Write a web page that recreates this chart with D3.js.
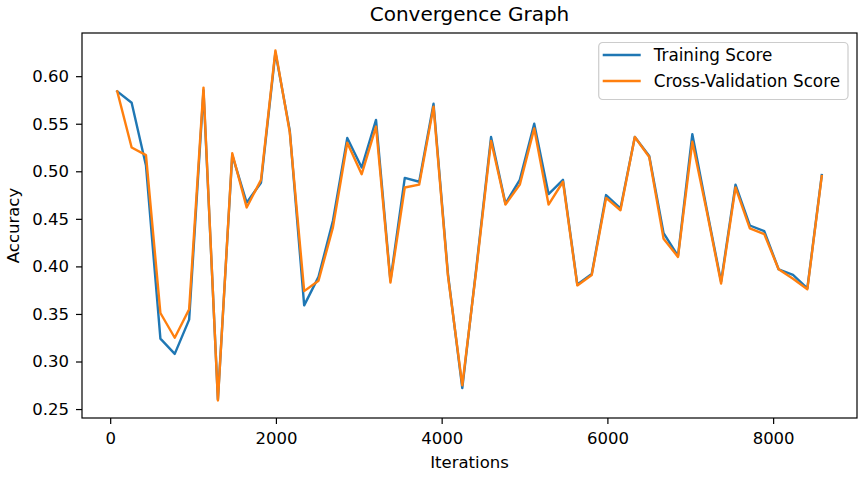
<!DOCTYPE html>
<html>
<head>
<meta charset="utf-8">
<script src="https://cdn.jsdelivr.net/npm/d3@7"></script>
<style>
  html, body { margin: 0; padding: 0; background: #fff; }
  svg { display: block; font-family: "DejaVu Sans", sans-serif; }
</style>
</head>
<body>
<svg id="chart" width="864" height="477"></svg>
<script>
// values
const iterations = [85, 259, 432, 606, 779, 953, 1126, 1300, 1473, 1647,
  1820, 1994, 2167, 2341, 2514, 2688, 2861, 3035, 3208, 3382,
  3555, 3729, 3902, 4076, 4249, 4423, 4596, 4770, 4943, 5117,
  5290, 5464, 5637, 5811, 5984, 6158, 6331, 6505, 6678, 6852,
  7025, 7199, 7372, 7546, 7719, 7893, 8066, 8240, 8413, 8587];

const trainingScore = [0.584, 0.572, 0.506, 0.324, 0.308, 0.344, 0.585, 0.260, 0.517, 0.467,
  0.488, 0.625, 0.543, 0.359, 0.389, 0.448, 0.535, 0.504, 0.554, 0.385,
  0.493, 0.489, 0.571, 0.392, 0.272, 0.402, 0.536, 0.466, 0.491, 0.550,
  0.476, 0.491, 0.381, 0.392, 0.475, 0.461, 0.536, 0.516, 0.435, 0.411,
  0.539, 0.460, 0.384, 0.486, 0.443, 0.437, 0.397, 0.391, 0.377, 0.496];

const cvScore = [0.584, 0.525, 0.517, 0.351, 0.325, 0.355, 0.588, 0.259, 0.519, 0.462,
  0.491, 0.627, 0.541, 0.374, 0.385, 0.441, 0.530, 0.497, 0.547, 0.383,
  0.483, 0.486, 0.568, 0.390, 0.275, 0.400, 0.532, 0.465, 0.486, 0.545,
  0.465, 0.489, 0.380, 0.391, 0.472, 0.459, 0.536, 0.515, 0.429, 0.410,
  0.531, 0.458, 0.382, 0.483, 0.440, 0.434, 0.397, 0.387, 0.376, 0.495];

const xTicks = [0, 2000, 4000, 6000, 8000];
const yTicks = [0.25, 0.30, 0.35, 0.40, 0.45, 0.50, 0.55, 0.60];

const series = [
  { name: "Training Score", values: trainingScore, color: "#1f77b4" },
  { name: "Cross-Validation Score", values: cvScore, color: "#ff7f0e" },
];

const width = 864;
const height = 477;
const margin = { top: 33, right: 7, bottom: 59, left: 82 };
const innerW = width - margin.left - margin.right;
const innerH = height - margin.top - margin.bottom;

const svg = d3.select("#chart");
const g = svg.append("g").attr("transform", `translate(${margin.left},${margin.top})`);

// matplotlib-like 5% padding around the data
const xExt = d3.extent(iterations);
const xPad = (xExt[1] - xExt[0]) * 0.05;
const allY = trainingScore.concat(cvScore);
const yExt = d3.extent(allY);
const yPad = (yExt[1] - yExt[0]) * 0.05;

const xScale = d3.scaleLinear()
  .domain([xExt[0] - xPad, xExt[1] + xPad])
  .range([0, innerW]);

const yScale = d3.scaleLinear()
  .domain([yExt[0] - yPad, yExt[1] + yPad])
  .range([innerH, 0]);

const line = d3.line()
  .x((d, i) => xScale(iterations[i]))
  .y((d) => yScale(d));

series.forEach((s) => {
  g.append("path")
    .datum(s.values)
    .attr("d", line)
    .attr("fill", "none")
    .attr("stroke", s.color)
    .attr("stroke-width", 2.4)
    .attr("stroke-linejoin", "round")
    .attr("stroke-linecap", "square");
});

// axes
const xAxis = d3.axisBottom(xScale).tickValues(xTicks).tickFormat(d3.format("d"))
  .tickSize(6).tickPadding(8).tickSizeOuter(0);
const yAxis = d3.axisLeft(yScale).tickValues(yTicks).tickFormat(d3.format(".2f"))
  .tickSize(6).tickPadding(7).tickSizeOuter(0);

g.append("g").attr("class", "x-axis")
  .attr("transform", `translate(0,${innerH})`)
  .call(xAxis);
g.append("g").attr("class", "y-axis").call(yAxis);

g.selectAll(".x-axis text, .y-axis text")
  .style("font-size", "16.5px")
  .style("font-family", "DejaVu Sans")
  .attr("fill", "#000");
g.selectAll(".x-axis line, .y-axis line").attr("stroke", "#000").attr("stroke-width", 1.2);
g.selectAll(".x-axis .domain, .y-axis .domain").remove();

// frame
g.append("rect")
  .attr("x", 0)
  .attr("y", 0)
  .attr("width", innerW)
  .attr("height", innerH)
  .attr("fill", "none")
  .attr("stroke", "#000")
  .attr("stroke-width", 1.2);

// labels
svg.append("text")
  .attr("x", margin.left + innerW / 2)
  .attr("y", 20.5)
  .attr("text-anchor", "middle")
  .style("font-size", "20px")
  .text("Convergence Graph");

svg.append("text")
  .attr("x", margin.left + innerW / 2)
  .attr("y", 468)
  .attr("text-anchor", "middle")
  .style("font-size", "16.5px")
  .text("Iterations");

svg.append("text")
  .attr("transform", `translate(19,${margin.top + innerH / 2}) rotate(-90)`)
  .attr("text-anchor", "middle")
  .style("font-size", "16.5px")
  .text("Accuracy");

// legend, upper right
const legend = g.append("g");
const legendBox = legend.append("rect")
  .attr("rx", 4)
  .attr("fill", "#fff")
  .attr("fill-opacity", 0.8)
  .attr("stroke", "#cccccc")
  .attr("stroke-width", 1.2);

const rowH = 26;
const labels = [];
series.forEach((s, i) => {
  const y = 12.5 + i * rowH;
  legend.append("line")
    .attr("x1", 4)
    .attr("x2", 42)
    .attr("y1", y)
    .attr("y2", y)
    .attr("stroke", s.color)
    .attr("stroke-width", 2.4);
  labels.push(legend.append("text")
    .attr("x", 55)
    .attr("y", y + 6)
    .style("font-size", "16.8px")
    .text(s.name));
});

const textW = d3.max(labels, (t) => t.node().getComputedTextLength());
const boxW = 55 + textW + 8;
const boxH = 57;
legendBox.attr("width", boxW).attr("height", boxH);
legend.attr("transform", `translate(${innerW - 9 - boxW},9.5)`);
</script>
</body>
</html>
